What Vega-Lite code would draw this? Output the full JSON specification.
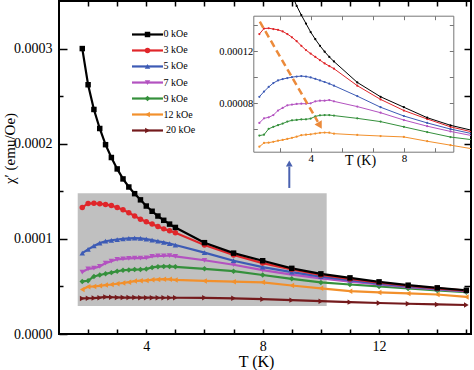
{
"$schema": "https://vega.github.io/schema/vega-lite/v6.json",
"width": 412, "height": 333,
"autosize": {"type": "none"},
"padding": {"left": 59, "top": 1, "right": 3, "bottom": 36},
"background": "white",
"config": {
  "view": {"stroke": "black", "strokeWidth": 2},
  "font": "Liberation Serif",
  "axis": {"grid": false, "domain": false, "labelFont": "Liberation Serif", "titleFont": "Liberation Serif", "labelColor": "black", "titleColor": "black", "tickColor": "black", "titleFontWeight": "normal", "labelFlush": false, "labelOverlap": false}
},
"datasets": {
  "series": [
{"s":"20 kOe","T":1.8,"v":0.374e-4},{"s":"20 kOe","T":2,"v":0.376e-4},{"s":"20 kOe","T":2.2,"v":0.378e-4},{"s":"20 kOe","T":2.4,"v":0.382e-4},{"s":"20 kOe","T":2.6,"v":0.39e-4},{"s":"20 kOe","T":2.8,"v":0.386e-4},{"s":"20 kOe","T":3,"v":0.384e-4},{"s":"20 kOe","T":3.2,"v":0.383e-4},{"s":"20 kOe","T":3.4,"v":0.383e-4},{"s":"20 kOe","T":3.6,"v":0.383e-4},{"s":"20 kOe","T":3.8,"v":0.382e-4},{"s":"20 kOe","T":4,"v":0.382e-4},{"s":"20 kOe","T":4.2,"v":0.382e-4},{"s":"20 kOe","T":4.4,"v":0.381e-4},{"s":"20 kOe","T":4.6,"v":0.381e-4},{"s":"20 kOe","T":4.8,"v":0.381e-4},{"s":"20 kOe","T":5,"v":0.381e-4},{"s":"20 kOe","T":6,"v":0.38e-4},{"s":"20 kOe","T":7,"v":0.375e-4},{"s":"20 kOe","T":8,"v":0.366e-4},{"s":"20 kOe","T":9,"v":0.356e-4},{"s":"20 kOe","T":10,"v":0.345e-4},{"s":"20 kOe","T":11,"v":0.335e-4},{"s":"20 kOe","T":12,"v":0.326e-4},{"s":"20 kOe","T":13,"v":0.318e-4},{"s":"20 kOe","T":14,"v":0.311e-4},{"s":"20 kOe","T":15,"v":0.305e-4},
{"s":"12 kOe","T":1.8,"v":0.468e-4},{"s":"12 kOe","T":2,"v":0.497e-4},{"s":"12 kOe","T":2.2,"v":0.499e-4},{"s":"12 kOe","T":2.4,"v":0.506e-4},{"s":"12 kOe","T":2.6,"v":0.514e-4},{"s":"12 kOe","T":2.8,"v":0.52e-4},{"s":"12 kOe","T":3,"v":0.528e-4},{"s":"12 kOe","T":3.2,"v":0.536e-4},{"s":"12 kOe","T":3.4,"v":0.545e-4},{"s":"12 kOe","T":3.6,"v":0.556e-4},{"s":"12 kOe","T":3.8,"v":0.56e-4},{"s":"12 kOe","T":4,"v":0.563e-4},{"s":"12 kOe","T":4.2,"v":0.569e-4},{"s":"12 kOe","T":4.4,"v":0.574e-4},{"s":"12 kOe","T":4.6,"v":0.576e-4},{"s":"12 kOe","T":4.8,"v":0.575e-4},{"s":"12 kOe","T":5,"v":0.568e-4},{"s":"12 kOe","T":6,"v":0.558e-4},{"s":"12 kOe","T":7,"v":0.55e-4},{"s":"12 kOe","T":8,"v":0.543e-4},{"s":"12 kOe","T":9,"v":0.51e-4},{"s":"12 kOe","T":10,"v":0.48e-4},{"s":"12 kOe","T":11,"v":0.45e-4},{"s":"12 kOe","T":12,"v":0.437e-4},{"s":"12 kOe","T":13,"v":0.426e-4},{"s":"12 kOe","T":14,"v":0.415e-4},{"s":"12 kOe","T":15,"v":0.39e-4},
{"s":"9 kOe","T":1.8,"v":0.553e-4},{"s":"9 kOe","T":2,"v":0.56e-4},{"s":"9 kOe","T":2.2,"v":0.605e-4},{"s":"9 kOe","T":2.4,"v":0.62e-4},{"s":"9 kOe","T":2.6,"v":0.633e-4},{"s":"9 kOe","T":2.8,"v":0.645e-4},{"s":"9 kOe","T":3,"v":0.66e-4},{"s":"9 kOe","T":3.2,"v":0.67e-4},{"s":"9 kOe","T":3.4,"v":0.673e-4},{"s":"9 kOe","T":3.6,"v":0.677e-4},{"s":"9 kOe","T":3.8,"v":0.678e-4},{"s":"9 kOe","T":4,"v":0.683e-4},{"s":"9 kOe","T":4.2,"v":0.7e-4},{"s":"9 kOe","T":4.4,"v":0.708e-4},{"s":"9 kOe","T":4.6,"v":0.71e-4},{"s":"9 kOe","T":4.8,"v":0.71e-4},{"s":"9 kOe","T":5,"v":0.706e-4},{"s":"9 kOe","T":6,"v":0.685e-4},{"s":"9 kOe","T":7,"v":0.66e-4},{"s":"9 kOe","T":8,"v":0.62e-4},{"s":"9 kOe","T":9,"v":0.58e-4},{"s":"9 kOe","T":10,"v":0.542e-4},{"s":"9 kOe","T":11,"v":0.52e-4},{"s":"9 kOe","T":12,"v":0.5e-4},{"s":"9 kOe","T":13,"v":0.478e-4},{"s":"9 kOe","T":14,"v":0.458e-4},{"s":"9 kOe","T":15,"v":0.44e-4},
{"s":"7 kOe","T":1.8,"v":0.65e-4},{"s":"7 kOe","T":2,"v":0.685e-4},{"s":"7 kOe","T":2.2,"v":0.693e-4},{"s":"7 kOe","T":2.4,"v":0.71e-4},{"s":"7 kOe","T":2.6,"v":0.745e-4},{"s":"7 kOe","T":2.8,"v":0.765e-4},{"s":"7 kOe","T":3,"v":0.785e-4},{"s":"7 kOe","T":3.2,"v":0.79e-4},{"s":"7 kOe","T":3.4,"v":0.795e-4},{"s":"7 kOe","T":3.6,"v":0.797e-4},{"s":"7 kOe","T":3.8,"v":0.797e-4},{"s":"7 kOe","T":4,"v":0.8e-4},{"s":"7 kOe","T":4.2,"v":0.815e-4},{"s":"7 kOe","T":4.4,"v":0.82e-4},{"s":"7 kOe","T":4.6,"v":0.82e-4},{"s":"7 kOe","T":4.8,"v":0.825e-4},{"s":"7 kOe","T":5,"v":0.815e-4},{"s":"7 kOe","T":6,"v":0.775e-4},{"s":"7 kOe","T":7,"v":0.728e-4},{"s":"7 kOe","T":8,"v":0.672e-4},{"s":"7 kOe","T":9,"v":0.625e-4},{"s":"7 kOe","T":10,"v":0.585e-4},{"s":"7 kOe","T":11,"v":0.55e-4},{"s":"7 kOe","T":12,"v":0.52e-4},{"s":"7 kOe","T":13,"v":0.492e-4},{"s":"7 kOe","T":14,"v":0.468e-4},{"s":"7 kOe","T":15,"v":0.447e-4},
{"s":"5 kOe","T":1.8,"v":0.85e-4},{"s":"5 kOe","T":2,"v":0.89e-4},{"s":"5 kOe","T":2.2,"v":0.925e-4},{"s":"5 kOe","T":2.4,"v":0.955e-4},{"s":"5 kOe","T":2.6,"v":0.975e-4},{"s":"5 kOe","T":2.8,"v":0.985e-4},{"s":"5 kOe","T":3,"v":0.993e-4},{"s":"5 kOe","T":3.2,"v":1.0e-4},{"s":"5 kOe","T":3.4,"v":1.005e-4},{"s":"5 kOe","T":3.6,"v":1.008e-4},{"s":"5 kOe","T":3.8,"v":1.005e-4},{"s":"5 kOe","T":4,"v":0.998e-4},{"s":"5 kOe","T":4.2,"v":0.987e-4},{"s":"5 kOe","T":4.4,"v":0.975e-4},{"s":"5 kOe","T":4.6,"v":0.963e-4},{"s":"5 kOe","T":4.8,"v":0.95e-4},{"s":"5 kOe","T":5,"v":0.935e-4},{"s":"5 kOe","T":6,"v":0.855e-4},{"s":"5 kOe","T":7,"v":0.77e-4},{"s":"5 kOe","T":8,"v":0.703e-4},{"s":"5 kOe","T":9,"v":0.65e-4},{"s":"5 kOe","T":10,"v":0.603e-4},{"s":"5 kOe","T":11,"v":0.565e-4},{"s":"5 kOe","T":12,"v":0.53e-4},{"s":"5 kOe","T":13,"v":0.5e-4},{"s":"5 kOe","T":14,"v":0.475e-4},{"s":"5 kOe","T":15,"v":0.452e-4},
{"s":"3 kOe","T":1.8,"v":1.33e-4},{"s":"3 kOe","T":2,"v":1.372e-4},{"s":"3 kOe","T":2.2,"v":1.374e-4},{"s":"3 kOe","T":2.4,"v":1.368e-4},{"s":"3 kOe","T":2.6,"v":1.362e-4},{"s":"3 kOe","T":2.8,"v":1.35e-4},{"s":"3 kOe","T":3,"v":1.33e-4},{"s":"3 kOe","T":3.2,"v":1.305e-4},{"s":"3 kOe","T":3.4,"v":1.275e-4},{"s":"3 kOe","T":3.6,"v":1.24e-4},{"s":"3 kOe","T":3.8,"v":1.207e-4},{"s":"3 kOe","T":4,"v":1.18e-4},{"s":"3 kOe","T":4.2,"v":1.155e-4},{"s":"3 kOe","T":4.4,"v":1.13e-4},{"s":"3 kOe","T":4.6,"v":1.105e-4},{"s":"3 kOe","T":4.8,"v":1.085e-4},{"s":"3 kOe","T":5,"v":1.065e-4},{"s":"3 kOe","T":6,"v":0.935e-4},{"s":"3 kOe","T":7,"v":0.83e-4},{"s":"3 kOe","T":8,"v":0.745e-4},{"s":"3 kOe","T":9,"v":0.68e-4},{"s":"3 kOe","T":10,"v":0.62e-4},{"s":"3 kOe","T":11,"v":0.578e-4},{"s":"3 kOe","T":12,"v":0.54e-4},{"s":"3 kOe","T":13,"v":0.507e-4},{"s":"3 kOe","T":14,"v":0.48e-4},{"s":"3 kOe","T":15,"v":0.456e-4},
{"s":"0 kOe","T":1.8,"v":3.0e-4},{"s":"0 kOe","T":2,"v":2.62e-4},{"s":"0 kOe","T":2.2,"v":2.36e-4},{"s":"0 kOe","T":2.4,"v":2.16e-4},{"s":"0 kOe","T":2.6,"v":1.99e-4},{"s":"0 kOe","T":2.8,"v":1.855e-4},{"s":"0 kOe","T":3,"v":1.735e-4},{"s":"0 kOe","T":3.2,"v":1.63e-4},{"s":"0 kOe","T":3.4,"v":1.545e-4},{"s":"0 kOe","T":3.6,"v":1.475e-4},{"s":"0 kOe","T":3.8,"v":1.41e-4},{"s":"0 kOe","T":4,"v":1.345e-4},{"s":"0 kOe","T":4.2,"v":1.29e-4},{"s":"0 kOe","T":4.4,"v":1.24e-4},{"s":"0 kOe","T":4.6,"v":1.195e-4},{"s":"0 kOe","T":4.8,"v":1.155e-4},{"s":"0 kOe","T":5,"v":1.12e-4},{"s":"0 kOe","T":6,"v":0.96e-4},{"s":"0 kOe","T":7,"v":0.85e-4},{"s":"0 kOe","T":8,"v":0.77e-4},{"s":"0 kOe","T":9,"v":0.69e-4},{"s":"0 kOe","T":10,"v":0.632e-4},{"s":"0 kOe","T":11,"v":0.59e-4},{"s":"0 kOe","T":12,"v":0.548e-4},{"s":"0 kOe","T":13,"v":0.513e-4},{"s":"0 kOe","T":14,"v":0.485e-4},{"s":"0 kOe","T":15,"v":0.46e-4}
  ],
  "legend": [
{"s":"0 kOe","y":3.148e-4,"x1":3.509,"x2":4.574,"xm":4.042,"xt":4.592},
{"s":"3 kOe","y":2.980e-4,"x1":3.509,"x2":4.574,"xm":4.042,"xt":4.592},
{"s":"5 kOe","y":2.812e-4,"x1":3.509,"x2":4.574,"xm":4.042,"xt":4.592},
{"s":"7 kOe","y":2.643e-4,"x1":3.509,"x2":4.574,"xm":4.042,"xt":4.592},
{"s":"9 kOe","y":2.475e-4,"x1":3.509,"x2":4.574,"xm":4.042,"xt":4.592},
{"s":"12 kOe","y":2.307e-4,"x1":3.509,"x2":4.574,"xm":4.042,"xt":4.592},
{"s":"20 kOe","y":2.139e-4,"x1":3.509,"x2":4.574,"xm":4.042,"xt":4.678}
  ],
  "box": [{"T1":1.643,"T2":10.2,"c1":0.2943e-4,"c2":1.479e-4}],
  "bluearrow": [{"T":8.915,"v1":1.535e-4,"v2":1.76e-4,"vh":1.792e-4}],
  "dash": [{"T":1.82,"v":1.424e-4},{"T":4.31,"v":0.659e-4}],
  "dashhead": [{"T":4.4,"v":0.63e-4}]
},
"layer": [
  {
    "layer": [
      {
        "data": {"name": "box"},
        "mark": {"type": "rect", "color": "#c0c0c0"},
        "encoding": {
          "x": {"field": "T1", "type": "quantitative", "scale": {"domain": [1, 15.16], "nice": false, "zero": false}, "axis": null},
          "x2": {"field": "T2"},
          "y": {"field": "c1", "type": "quantitative", "scale": {"domain": [0, 0.00035], "nice": false, "zero": false},
                "axis": {"orient": "left", "values": [0.00005, 0.00015, 0.00025], "tickSize": -4, "tickWidth": 1.5, "labels": false, "title": null}},
          "y2": {"field": "c2"}
        }
      },
      {
        "data": {"name": "series"},
        "mark": {"type": "line", "strokeWidth": 2.2},
        "encoding": {
          "x": {"field": "T", "type": "quantitative", "scale": {"domain": [1, 15.16], "nice": false, "zero": false},
                "axis": {"orient": "bottom", "values": [2,3,4,5,6,7,8,9,10,11,12,13,14,15], "tickSize": -5, "tickWidth": 1.5,
                         "labelExpr": "datum.value % 4 == 0 ? datum.label : ''", "format": "d", "labelFontSize": 14, "labelPadding": 10.5,
                         "title": "T (K)", "titleFontSize": 16, "titleX": 197, "titleY": 32, "titleBaseline": "alphabetic", "titleAlign": "center"}},
          "y": {"field": "v", "type": "quantitative", "scale": {"domain": [0, 0.00035], "nice": false, "zero": false},
                "axis": {"orient": "left", "values": [0, 0.0001, 0.0002, 0.0003], "format": ".4f", "tickSize": -8, "tickWidth": 1.5,
                         "labelFontSize": 14, "labelPadding": 15,
                         "title": "χ′ (emu/Oe)", "titleFontSize": 15, "titleX": -50, "titleY": 147, "titleAngle": 270, "titleBaseline": "middle", "titleAlign": "center"}},
          "color": {"field": "s", "type": "nominal", "legend": null,
                    "scale": {"domain": ["0 kOe","3 kOe","5 kOe","7 kOe","9 kOe","12 kOe","20 kOe"], "range": ["#000000","#e0262a","#3d5bb5","#b352c0","#35903c","#f2902c","#741a1c"]}}
        }
      },
      {
        "data": {"name": "series"},
        "mark": {"type": "point", "filled": true, "size": 30, "opacity": 1},
        "encoding": {
          "x": {"field": "T", "type": "quantitative", "scale": {"domain": [1, 15.16], "nice": false, "zero": false},
                "axis": {"orient": "top", "values": [2,3,4,5,6,7,8,9,10,11,12,13,14,15], "tickSize": -5, "tickWidth": 1.5, "labels": false, "title": null}},
          "y": {"field": "v", "type": "quantitative", "scale": {"domain": [0, 0.00035], "nice": false, "zero": false},
                "axis": {"orient": "right", "values": [0.00005, 0.0001, 0.00015, 0.0002, 0.00025, 0.0003], "tickSize": -7, "tickWidth": 1.5, "labels": false, "title": null}},
          "color": {"field": "s", "type": "nominal", "legend": null},
          "shape": {"field": "s", "type": "nominal", "legend": null,
                    "scale": {"domain": ["0 kOe","3 kOe","5 kOe","7 kOe","9 kOe","12 kOe","20 kOe"], "range": ["square","circle","triangle-up","triangle-down","diamond","triangle-left","triangle-right"]}}
        }
      },
      {
        "data": {"name": "legend"},
        "mark": {"type": "rule", "strokeWidth": 2.2},
        "encoding": {
          "x": {"field": "x1", "type": "quantitative", "scale": {"domain": [1, 15.16], "nice": false, "zero": false}, "axis": null},
          "x2": {"field": "x2"},
          "y": {"field": "y", "type": "quantitative", "scale": {"domain": [0, 0.00035], "nice": false, "zero": false}, "axis": null},
          "color": {"field": "s", "type": "nominal", "legend": null}
        }
      },
      {
        "data": {"name": "legend"},
        "mark": {"type": "point", "filled": true, "size": 30, "opacity": 1},
        "encoding": {
          "x": {"field": "xm", "type": "quantitative", "scale": {"domain": [1, 15.16], "nice": false, "zero": false}, "axis": null},
          "y": {"field": "y", "type": "quantitative", "scale": {"domain": [0, 0.00035], "nice": false, "zero": false}, "axis": null},
          "color": {"field": "s", "type": "nominal", "legend": null},
          "shape": {"field": "s", "type": "nominal", "legend": null}
        }
      },
      {
        "data": {"name": "legend"},
        "mark": {"type": "text", "align": "left", "baseline": "middle", "fontSize": 10, "font": "Liberation Serif", "color": "black"},
        "encoding": {
          "x": {"field": "xt", "type": "quantitative", "scale": {"domain": [1, 15.16], "nice": false, "zero": false}, "axis": null},
          "y": {"field": "y", "type": "quantitative", "scale": {"domain": [0, 0.00035], "nice": false, "zero": false}, "axis": null},
          "text": {"field": "s", "type": "nominal"}
        }
      },
      {
        "data": {"name": "bluearrow"},
        "mark": {"type": "rule", "strokeWidth": 2, "color": "#4a62b0"},
        "encoding": {
          "x": {"field": "T", "type": "quantitative", "scale": {"domain": [1, 15.16], "nice": false, "zero": false}, "axis": null},
          "y": {"field": "v1", "type": "quantitative", "scale": {"domain": [0, 0.00035], "nice": false, "zero": false}, "axis": null},
          "y2": {"field": "v2"}
        }
      },
      {
        "data": {"name": "bluearrow"},
        "mark": {"type": "point", "shape": "triangle-up", "filled": true, "size": 45, "color": "#4a62b0", "opacity": 1},
        "encoding": {
          "x": {"field": "T", "type": "quantitative", "scale": {"domain": [1, 15.16], "nice": false, "zero": false}, "axis": null},
          "y": {"field": "vh", "type": "quantitative", "scale": {"domain": [0, 0.00035], "nice": false, "zero": false}, "axis": null}
        }
      }
    ],
    "resolve": {"axis": {"x": "independent", "y": "independent"}}
  },
  {
    "layer": [
      {
        "data": {"name": "series"},
        "transform": [{"filter": "datum.s != '20 kOe'"}],
        "mark": {"type": "line", "strokeWidth": 1, "clip": true},
        "encoding": {
          "x": {"field": "T", "type": "quantitative", "scale": {"domain": [1.54, 10.12], "range": [194.3, 394.3], "nice": false, "zero": false},
                "axis": {"orient": "bottom", "offset": -182.3, "values": [2.667, 4, 5.333, 6.667, 8, 9.333], "tickSize": -4, "tickWidth": 1, "tickColor": "#777",
                         "domain": true, "domainColor": "#777", "domainWidth": 1,
                         "labelExpr": "datum.value == 4 || datum.value == 8 ? format(datum.value, 'd') : ''", "labelFontSize": 11, "labelPadding": 5,
                         "title": "T (K)", "titleFontSize": 14, "titleX": 301, "titleY": 9, "titleBaseline": "middle", "titleAlign": "center"}},
          "y": {"field": "v", "type": "quantitative", "scale": {"domain": [0.000043, 0.000147], "range": [150.7, 14.7], "nice": false, "zero": false},
                "axis": {"orient": "left", "offset": -194.3, "values": [0.00006, 0.00008, 0.0001, 0.00012, 0.00014], "tickSize": -4, "tickWidth": 1, "tickColor": "#777",
                         "domain": true, "domainColor": "#777", "domainWidth": 1,
                         "labelExpr": "abs(datum.value - 0.00008) < 1e-9 || abs(datum.value - 0.00012) < 1e-9 ? format(datum.value, '.5f') : ''", "labelFontSize": 10.5, "labelPadding": 4.5,
                         "title": null}},
          "color": {"field": "s", "type": "nominal", "legend": null}
        }
      },
      {
        "data": {"name": "series"},
        "transform": [{"filter": "datum.s != '20 kOe'"}],
        "mark": {"type": "point", "filled": true, "size": 5, "opacity": 1, "clip": true},
        "encoding": {
          "x": {"field": "T", "type": "quantitative", "scale": {"domain": [1.54, 10.12], "range": [194.3, 394.3], "nice": false, "zero": false},
                "axis": {"orient": "top", "offset": -14.7, "values": [2.667, 4, 5.333, 6.667, 8, 9.333], "tickSize": -4, "tickWidth": 1, "tickColor": "#777",
                         "domain": true, "domainColor": "#777", "domainWidth": 1, "labels": false, "title": null}},
          "y": {"field": "v", "type": "quantitative", "scale": {"domain": [0.000043, 0.000147], "range": [150.7, 14.7], "nice": false, "zero": false},
                "axis": {"orient": "right", "offset": -17.7, "values": [0.00006, 0.00008, 0.0001, 0.00012, 0.00014], "tickSize": -4, "tickWidth": 1, "tickColor": "#777",
                         "domain": true, "domainColor": "#777", "domainWidth": 1, "labels": false, "title": null}},
          "color": {"field": "s", "type": "nominal", "legend": null}
        }
      },
      {
        "data": {"name": "dash"},
        "mark": {"type": "line", "strokeWidth": 2.5, "strokeDash": [7, 4], "color": "#ec8a3a"},
        "encoding": {
          "x": {"field": "T", "type": "quantitative", "scale": {"domain": [1.54, 10.12], "range": [194.3, 394.3], "nice": false, "zero": false}, "axis": null},
          "y": {"field": "v", "type": "quantitative", "scale": {"domain": [0.000043, 0.000147], "range": [150.7, 14.7], "nice": false, "zero": false}, "axis": null}
        }
      },
      {
        "data": {"name": "dashhead"},
        "mark": {"type": "point", "shape": "triangle-down", "angle": -30, "filled": true, "size": 70, "color": "#ec8a3a", "opacity": 1},
        "encoding": {
          "x": {"field": "T", "type": "quantitative", "scale": {"domain": [1.54, 10.12], "range": [194.3, 394.3], "nice": false, "zero": false}, "axis": null},
          "y": {"field": "v", "type": "quantitative", "scale": {"domain": [0.000043, 0.000147], "range": [150.7, 14.7], "nice": false, "zero": false}, "axis": null}
        }
      }
    ],
    "resolve": {"axis": {"x": "independent", "y": "independent"}}
  }
],
"resolve": {"scale": {"x": "independent", "y": "independent"}}
}
